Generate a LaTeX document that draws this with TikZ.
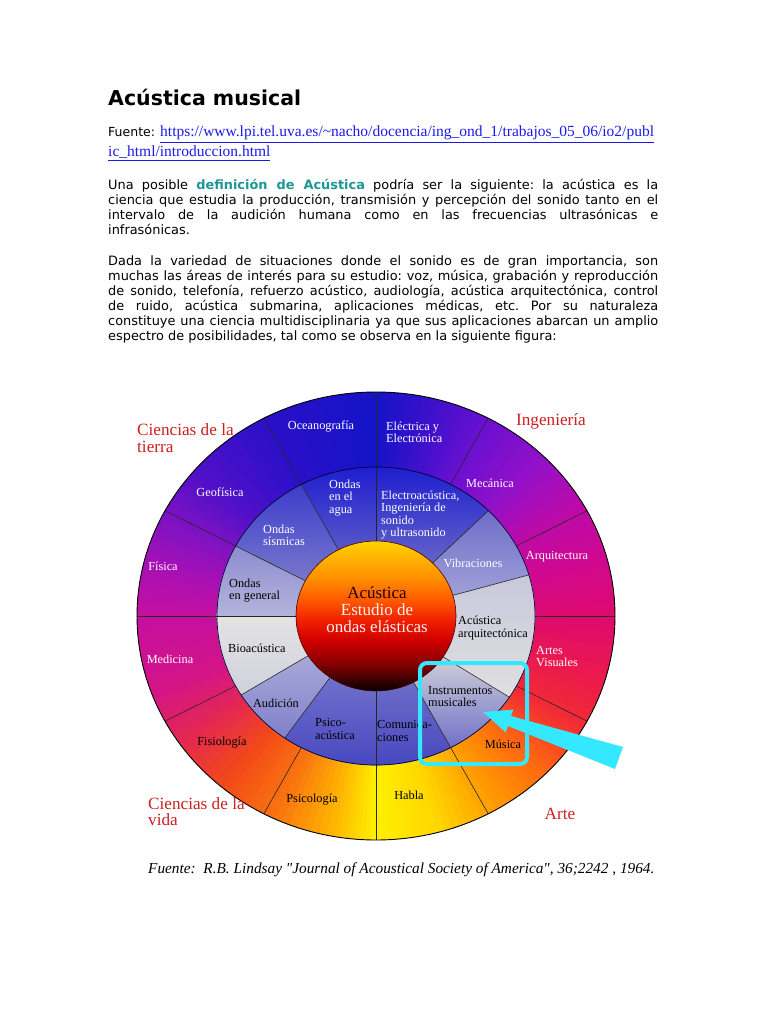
\documentclass[tikz,border=0pt]{standalone}
\usepackage{fontspec}
\setmainfont{Liberation Serif}
\newfontfamily\versans{DejaVu Sans}
\newfontfamily\wserif{Liberation Serif}
\definecolor{teal1}{HTML}{1E9696}
\definecolor{linkblue}{HTML}{1A1AEE}
\definecolor{catred}{HTML}{CC2020}
\definecolor{hlcyan}{HTML}{33E8FF}
% outer ring stops
\definecolor{ringA}{HTML}{1414C8}
\definecolor{ringB}{HTML}{2A10C8}
\definecolor{ringC}{HTML}{5010C8}
\definecolor{ringD}{HTML}{7812C4}
\definecolor{ringE}{HTML}{B010B0}
\definecolor{ringF}{HTML}{C410A0}
\definecolor{ringG}{HTML}{D41488}
\definecolor{ringH}{HTML}{E42850}
\definecolor{ringI}{HTML}{F24A18}
\definecolor{ringJ}{HTML}{FA7410}
\definecolor{ringK}{HTML}{FFB800}
\definecolor{ringL}{HTML}{FFF000}
\definecolor{ringM}{HTML}{FFD800}
\definecolor{ringN}{HTML}{FF9C00}
\definecolor{ringO}{HTML}{FF6A10}
\definecolor{ringP}{HTML}{F22C34}
\definecolor{ringQ}{HTML}{EA1850}
\definecolor{ringR}{HTML}{DE0A6E}
\definecolor{ringS}{HTML}{D00890}
\definecolor{ringT}{HTML}{BC0AA8}
\definecolor{ringU}{HTML}{9410C8}
\definecolor{ringV}{HTML}{6A10D0}
\definecolor{ringW}{HTML}{4010CC}
% middle ring colours
\definecolor{midA}{HTML}{1E1ED0}
\definecolor{midB}{HTML}{5858C8}
\definecolor{midC}{HTML}{3C3CCC}
\definecolor{midD}{HTML}{7878CC}
\definecolor{midE}{HTML}{8C8CD0}
\definecolor{midF}{HTML}{B4B4DC}
\definecolor{midG}{HTML}{E4E4E4}
\definecolor{midH}{HTML}{D0D0DC}
\definecolor{midI}{HTML}{A8A8D8}
\definecolor{midJ}{HTML}{8080CC}
\definecolor{midK}{HTML}{7070CC}
\definecolor{midL}{HTML}{4848C0}
\definecolor{midM}{HTML}{6C6CC8}
\definecolor{midN}{HTML}{D0D0D8}
\definecolor{midO}{HTML}{7070C8}
\definecolor{midP}{HTML}{C8C8DC}
\definecolor{midQ}{HTML}{E0E0E0}
\definecolor{midR}{HTML}{A0A0D8}
\definecolor{midS}{HTML}{6464C8}
% sphere
\definecolor{spA}{HTML}{000000}
\definecolor{spB}{HTML}{500000}
\definecolor{spC}{HTML}{900000}
\definecolor{spD}{HTML}{D00000}
\definecolor{spE}{HTML}{F02000}
\definecolor{spF}{HTML}{FF5A00}
\definecolor{spG}{HTML}{FF8C00}
\definecolor{spH}{HTML}{FFB000}
\definecolor{spI}{HTML}{FFD200}
\pgfdeclareverticalshading{sphshade}{100bp}{color(0bp)=(spA); color(25bp)=(spA); color(30.1bp)=(spB); color(35.1bp)=(spC); color(41.9bp)=(spD); color(48.6bp)=(spE); color(55.4bp)=(spF); color(62.2bp)=(spG); color(68.9bp)=(spH); color(75bp)=(spI); color(100bp)=(spI)}
\begin{document}
\begin{tikzpicture}[x=1pt,y=1pt,
  wl/.style={font=\wserif\fontsize{12.3}{12.5}\selectfont, inner sep=0pt, text=white, align=left},
  wd/.style={wl, text=black},
  cat/.style={font=\wserif\fontsize{17.2}{16.5}\selectfont, text=catred, inner sep=0pt, align=left},
  body/.style={font=\versans\fontsize{12.9}{15}\selectfont\frenchspacing, inner sep=0pt, anchor=base west},
  ctr/.style={inner sep=0pt, font=\wserif\fontsize{17}{17}\selectfont},
  rad/.style={line width=0.6pt, draw=black!85},
]
\fill[white] (0,0) rectangle (768,-1024);
\useasboundingbox (0,0) rectangle (768,-1024);

% ---------- header text ----------
\node[anchor=base west, inner sep=0pt, font=\versans\bfseries\fontsize{20.5}{24}\selectfont] (title) at (108,-106) {Acústica musical};
\node[anchor=base west, inner sep=0pt, font=\versans\fontsize{12.5}{14}\selectfont] (fte) at (108,-137) {Fuente:};
\node[anchor=base west, inner sep=0pt, font=\wserif\fontsize{15.5}{16}\selectfont, text=linkblue] (url1) at (160,-137) {\underline{https://www.lpi.tel.uva.es/\textasciitilde nacho/docencia/ing\_ond\_1/trabajos\_05\_06/io2/publ}};
\node[anchor=base west, inner sep=0pt, font=\wserif\fontsize{15.5}{16}\selectfont, text=linkblue] (url2) at (108,-157) {\underline{ic\_html/introduccion.html}};

\node[body] (p1a) at (108,-190) {\makebox[550pt][s]{Una posible {\color{teal1}\bfseries definición de Acústica} podría ser la siguiente: la acústica es la}};
\node[body] (p1b) at (108,-204.7) {\makebox[550pt][s]{ciencia que estudia la producción, transmisión y percepción del sonido tanto en el}};
\node[body] (p1c) at (108,-219.4) {\makebox[550pt][s]{intervalo de la audición humana como en las frecuencias ultrasónicas e}};
\node[body] (p1d) at (108,-234) {infrasónicas.};

\node[body] (p2a) at (108,-265) {\makebox[550pt][s]{Dada la variedad de situaciones donde el sonido es de gran importancia, son}};
\node[body] (p2b) at (108,-280) {\makebox[550pt][s]{muchas las áreas de interés para su estudio: voz, música, grabación y reproducción}};
\node[body] (p2c) at (108,-295) {\makebox[550pt][s]{de sonido, telefonía, refuerzo acústico, audiología, acústica arquitectónica, control}};
\node[body] (p2d) at (108,-310) {\makebox[550pt][s]{de ruido, acústica submarina, aplicaciones médicas, etc. Por su naturaleza}};
\node[body] (p2e) at (108,-325) {\makebox[550pt][s]{constituye una ciencia multidisciplinaria ya que sus aplicaciones abarcan un amplio}};
\node[body] (p2f) at (108,-340) {espectro de posibilidades, tal como se observa en la siguiente figura:};

% ---------- wheel ----------
\begin{scope}[shift={(376,-616)}, yscale=0.9372]
  % outer ring angular gradient
  \foreach \aS/\aE/\cS/\cE in {90/118/ringA/ringB, 118/140/ringB/ringC, 140/152/ringC/ringD,
      152/170/ringD/ringE, 170/180/ringE/ringF, 180/200/ringF/ringG, 200/215/ringG/ringH,
      215/230/ringH/ringI, 230/245/ringI/ringJ, 245/260/ringJ/ringK, 260/270/ringK/ringL,
      270/285/ringL/ringM, 285/300/ringM/ringN, 300/315/ringN/ringO, 315/330/ringO/ringP,
      330/345/ringP/ringQ, 345/360/ringQ/ringR, 360/375/ringR/ringS, 375/390/ringS/ringT,
      390/405/ringT/ringU, 405/422/ringU/ringV, 422/435/ringV/ringW, 435/450/ringW/ringA}{
    \foreach \i in {0,...,7}{
      \pgfmathsetmacro\ta{\aS+(\aE-\aS)*\i/8}
      \pgfmathsetmacro\tb{\aS+(\aE-\aS)*(\i+1)/8+0.4}
      \pgfmathtruncatemacro\pp{100-(\i+0.5)*100/8}
      \colorlet{wcol}{\cS!\pp!\cE}
      \fill[wcol] (\ta:158) arc[start angle=\ta, end angle=\tb, radius=158] -- (\tb:239) arc[start angle=\tb, end angle=\ta, radius=239] -- cycle;
    }
  }
  % middle ring sectors
  \foreach \aS/\aE/\ct/\cb in {90/118/midA/midB, 118/152/midC/midD, 152/180/midE/midF,
      180/212/midG/midH, 212/235/midI/midJ, 235/270/midK/midL, 270/298/midM/midL,
      298/327/midN/midO, 327/376/midP/midQ, 376/405/midM/midR, 405/450/midA/midS}{
    \shade[top color=\ct, bottom color=\cb] (\aS:79) arc[start angle=\aS, end angle=\aE, radius=79] -- (\aE:159.3) arc[start angle=\aE, end angle=\aS, radius=159.3] -- cycle;
  }
  % sphere
  \shade[shading=sphshade] (0,0) circle (80);
  % dividing lines
  \foreach \a in {90,118,152,180,-62,-90}{ \draw[rad] (\a:80) -- (\a:239); }
  \foreach \a in {62,28,0,-28,-118,-152}{ \draw[rad] (\a:159) -- (\a:239); }
  \foreach \a in {45,16,-33,-125,-148}{ \draw[rad] (\a:80) -- (\a:159); }
  \draw[line width=0.9pt, draw=black] (0,0) circle (239);
  \draw[line width=0.7pt, draw=black!80!blue] (0,0) circle (159);
  \draw[line width=0.6pt, draw=black!70!red] (0,0) circle (80);
\end{scope}

% outer ring labels
\node[wl] (oce) at (321,-426) {Oceanografía};
\node[wl, anchor=west] (ele) at (386,-432.5) {Eléctrica y\\Electrónica};
\node[wl] (mec) at (490,-483) {Mecánica};
\node[wl] (arq) at (557,-557) {Arquitectura};
\node[wl, anchor=west] (art) at (536,-656.5) {Artes\\Visuales};
\node[wd] (mus) at (503,-744) {Música};
\node[wd] (hab) at (409,-795) {Habla};
\node[wd] (psi) at (312,-800) {Psicología};
\node[wd] (fis) at (222,-743) {Fisiología};
\node[wl] (med) at (170,-659) {Medicina};
\node[wl] (fsc) at (163,-566) {Física};
\node[wl] (geo) at (220,-492) {Geofísica};

% middle ring labels
\node[wl, anchor=west] (agua) at (329,-498) {Ondas\\en el\\agua};
\node[wl, anchor=west] (sism) at (263,-535.5) {Ondas\\sísmicas};
\node[wd, anchor=west] (gen) at (229,-590.5) {Ondas\\en general};
\node[wd, anchor=west] (bio) at (228,-648) {Bioacústica};
\node[wd] (aud) at (276,-703) {Audición};
\node[wd, anchor=west] (psa) at (315,-729) {Psico-\\acústica};
\node[wd, anchor=west] (com) at (377,-731) {Comunica-\\ciones};
\node[wd, anchor=west] (ins) at (428,-696.5) {Instrumentos\\musicales};
\node[wd, anchor=west] (aar) at (458,-628) {Acústica\\arquitectónica};
\node[wl] (vib) at (473,-563) {Vibraciones};
\node[wl, anchor=west] (eac) at (381,-515) {Electroacústica,\\Ingeniería de\\sonido\\y ultrasonido};

% centre
\node[ctr, text=black!85!red] (cac) at (377,-593) {Acústica};
\node[ctr, text=red!6!white] (ces) at (377,-610) {Estudio de};
\node[ctr, text=red!6!white] (con) at (377,-627) {ondas elásticas};

% category labels
\node[cat, anchor=west] (ctierra) at (137,-438) {Ciencias de la\\tierra};
\node[cat] (cing) at (551,-421) {Ingeniería};
\node[cat, anchor=west] (cvida) at (148,-811.5) {Ciencias de la\\vida};
\node[cat] (carte) at (560,-814) {Arte};

% highlight box and arrow
\node[draw=hlcyan, line width=4pt, rounded corners=7pt, minimum width=107pt, minimum height=101pt, inner sep=0pt] (hl) at (473.5,-713.5) {};
\fill[hlcyan] (483,-712) -- (513.3,-709.6) -- (511,-716) -- (623,-747) -- (615,-769) -- (508,-726) -- (505.7,-732.4) -- cycle;

% caption
\node[anchor=base west, inner sep=0pt, font=\wserif\itshape\fontsize{15.3}{16}\selectfont] (cap) at (148,-873) {Fuente:\ \ R.B. Lindsay "Journal of Acoustical Society of America", 36;2242 , 1964.};
\end{tikzpicture}
\end{document}
